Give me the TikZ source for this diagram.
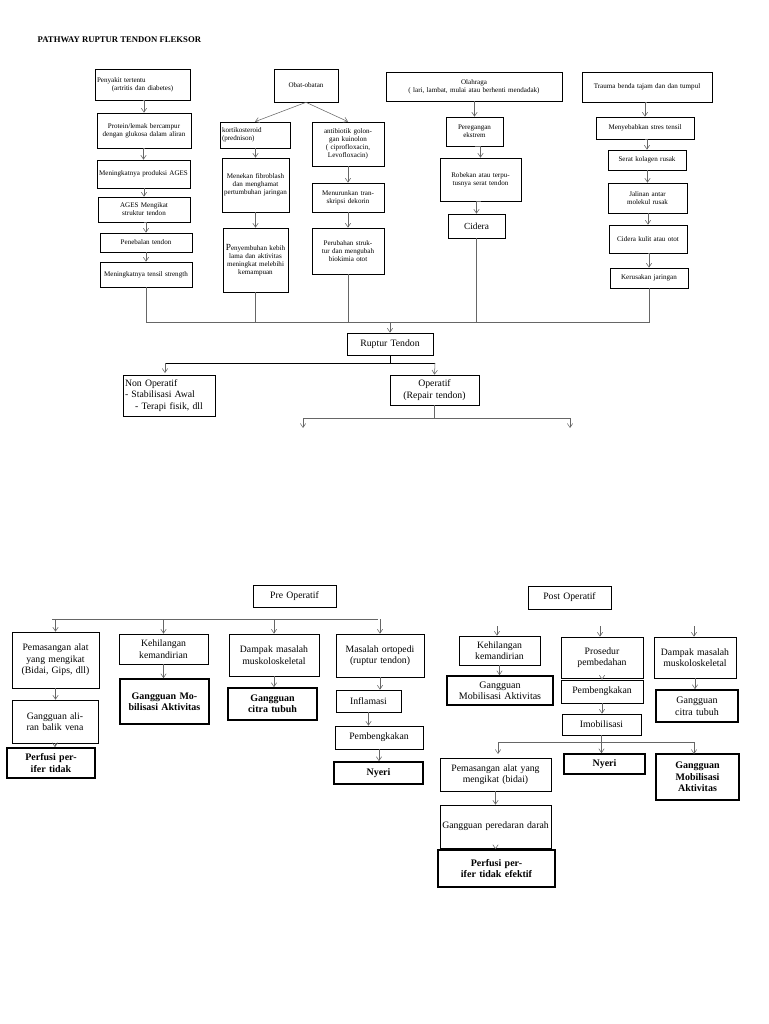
\documentclass[tikz,border=0pt]{standalone}
\usepackage{fontspec}
\setmainfont{Liberation Serif}
\usetikzlibrary{arrows.meta}
\newcommand{\bx}[7]{%
  \pgfmathsetmacro\bw{(#4-#2)*0.75}%
  \pgfmathsetmacro\bh{(#5-#3)*0.75}%
  \pgfmathsetmacro\tw{(#4-#2)*0.75-3}%
  \node[#6, minimum width=\bw pt, minimum height=\bh pt, text width=\tw pt] (#1) at ({(#2+#4)/2},{(#3+#5)/2}) {#7};}
\begin{document}
\begin{tikzpicture}[x=0.75pt,y=-0.75pt,
  base/.style={draw, inner sep=0.5pt, align=center, line width=0.5pt},
  tb/.style={base, font=\fontsize{5.3}{6}\selectfont},
  bb/.style={base, font=\fontsize{7.3}{8.6}\selectfont},
  thk/.style={bb, line width=1.3pt, font=\fontsize{7.5}{8.6}\selectfont\bfseries},
  arr/.style={draw=gray!80!black, line width=0.4pt, -{Straight Barb[length=3pt,width=4pt]}},
  ln/.style={draw=gray!80!black, line width=0.6pt}]
\useasboundingbox (0,0) rectangle (768,1024);
\fill[white] (0,0) rectangle (768,1024);
\node[anchor=west, font=\fontsize{6.5}{7}\selectfont\bfseries] (title) at (33,40) {PATHWAY RUPTUR TENDON FLEKSOR};
% column A
\bx{A1}{95}{69}{190}{100}{tb}{\raggedright Penyakit tertentu\\(artritis dan diabetes)}
\bx{A2}{97}{113}{191}{148}{tb}{Protein/lemak bercampur dengan glukosa dalam aliran}
\bx{A3}{97}{160}{190}{188}{tb}{Meningkatnya produksi AGES}
\bx{A4}{98}{197}{190}{222}{tb}{AGES Mengikat struktur tendon}
\bx{A5}{100}{233}{192}{252}{tb}{Penebalan tendon}
\bx{A6}{100}{262}{192}{287}{tb}{Meningkatnya tensil strength}
% column B/C
\bx{B1}{274}{69}{338}{102}{tb}{Obat-obatan\\[8pt]}
\bx{B2}{220}{122}{290}{148}{tb}{\raggedright kortikosteroid\\(prednison)\\[4pt]}
\bx{B3}{222}{158}{289}{212}{tb}{Menekan fibroblash dan menghamat pertumbuhan jaringan}
\bx{B4}{223}{228}{288}{292}{tb}{{\fontsize{7}{6}\selectfont P}enyembuhan kebih lama dan aktivitas meningkat melebihi kemampuan}
\bx{C2}{312}{122}{384}{166}{tb}{antibiotik golongan kuinolon\\( ciprofloxacin, Levofloxacin)}
\bx{C3}{312}{183}{384}{212}{tb}{Menurunkan transkripsi dekorin\\[3pt]}
\bx{C4}{312}{228}{384}{274}{tb}{Perubahan struktur dan mengubah biokimia otot}
% column D
\bx{D1}{386}{72}{562}{101}{tb}{Olahraga\\( lari, lambat, mulai atau berhenti mendadak)}
\bx{D2}{446}{117}{503}{146}{tb}{Peregangan ekstrem}
\bx{D3}{440}{158}{521}{201}{tb}{Robekan atau terputusnya serat tendon}
\bx{D4}{448}{214}{505}{238}{tb}{\fontsize{7}{8}\selectfont Cidera}
% column E
\bx{E1}{582}{72}{712}{102}{tb}{Trauma benda tajam dan dan tumpul}
\bx{E2}{596}{117}{694}{139}{tb}{Menyebabkan stres tensil}
\bx{E3}{608}{150}{686}{170}{tb}{Serat kolagen rusak}
\bx{E4}{608}{183}{687}{213}{tb}{Jalinan antar molekul rusak}
\bx{E5}{609}{225}{687}{253}{tb}{Cidera kulit atau otot}
\bx{E6}{610}{268}{688}{288}{tb}{Kerusakan jaringan}
% arrows top
\foreach \a/\b in {A1/A2,A2/A3,A3/A4,A4/A5,A5/A6,B2/B3,B3/B4,C2/C3,C3/C4,D1/D2,D2/D3,D3/D4,E1/E2,E2/E3,E3/E4,E4/E5,E5/E6}
  \draw[arr] (\a.south) -- (\a.south -| \b.north) -- (\b.north);
\draw[arr] (B1.south) -- (B2.north);
\draw[arr] (B1.south) -- (C2.north);
% bus
\coordinate (bus) at (0,322);
\draw[ln] (A6.south) -- (A6.south |- bus) -- (E6.south |- bus) -- (E6.south);
\foreach \n in {B4,C4,D4} \draw[ln] (\n.south) -- (\n.south |- bus);
% Ruptur
\bx{RT}{347}{333}{433}{355}{bb}{\raggedright Ruptur Tendon}
\draw[arr] (RT.north |- bus) -- (RT.north);
\bx{NO}{123}{375}{215}{416}{bb}{\raggedright Non Operatif\\- Stabilisasi Awal\\- Terapi fisik, dll}
\bx{OP}{390}{375}{479}{405}{bb}{Operatif\\(Repair tendon)}
\coordinate (rb) at (0,363);
\draw[line width=0.6pt] (RT.south) -- (RT.south |- rb);
\draw[line width=0.6pt] (165,363) -- (435,363);
\coordinate (nl) at (165,363);
\coordinate (ol) at (435,363);
\draw[arr] (nl) -- (165,373);
\draw[arr] (ol) -- (OP.north);
\coordinate (ob) at (0,418);
\coordinate (obl) at (303,418);
\coordinate (obr) at (570,418);
\draw[ln] (OP.south) -- (OP.south |- ob);
\draw[ln] (obl) -- (obr);
\draw[arr] (obl) -- (303,428);
\draw[arr] (obr) -- (570,428);
% Pre operatif
\bx{PRE}{253}{585}{336}{607}{bb}{Pre Operatif}
\coordinate (pb) at (0,619);
\draw[ln] (52,619) -- (378,619);
\bx{P1}{12}{632}{99}{688}{bb}{Pemasangan alat yang mengikat (Bidai, Gips, dll)\\[10pt]}
\bx{P2}{12}{700}{98}{743}{bb}{Gangguan aliran balik vena}
\bx{P3}{7}{748}{95}{778}{thk}{Perfusi perifer tidak}
\bx{K1}{119}{634}{208}{664}{bb}{Kehilangan kemandirian}
\bx{K2}{120}{679}{209}{724}{thk}{Gangguan Mobilisasi Aktivitas}
\bx{DM}{229}{634}{319}{676}{bb}{Dampak masalah muskoloskeletal}
\bx{DG}{228}{688}{317}{720}{thk}{Gangguan citra tubuh\\[6pt]}
\bx{M1}{336}{634}{424}{677}{bb}{Masalah ortopedi (ruptur tendon)}
\bx{M2}{336}{690}{401}{712}{bb}{Inflamasi}
\bx{M3}{335}{726}{423}{749}{bb}{Pembengkakan}
\bx{M4}{334}{762}{423}{784}{thk}{Nyeri}
\foreach \n in {P1,K1,DM,M1} \draw[arr] (\n.north |- pb) -- (\n.north);
\foreach \a/\b in {P1/P2,P2/P3,K1/K2,DM/DG,M1/M2,M2/M3,M3/M4}
  \draw[arr] (\a.south) -- (\a.south |- \b.north);
% Post operatif
\bx{POST}{528}{586}{611}{609}{bb}{Post Operatif}
\bx{Q1}{459}{636}{540}{665}{bb}{Kehilangan kemandirian}
\bx{Q2}{447}{676}{553}{705}{thk}{\mdseries Gangguan\\Mobilisasi Aktivitas}
\bx{R1}{561}{637}{643}{678}{bb}{Prosedur pembedahan}
\bx{R2}{561}{680}{643}{703}{bb}{Pembengkakan}
\bx{R3}{562}{714}{641}{735}{bb}{Imobilisasi}
\bx{S1}{654}{637}{736}{678}{bb}{Dampak masalah muskoloskeletal}
\bx{S2}{656}{690}{738}{722}{thk}{\mdseries Gangguan citra tubuh}
\foreach \n/\x in {Q1/497,R1/600,S1/694} {
  \coordinate (t\n) at (\x,626);
  \draw[arr] (t\n) -- (\n.north -| t\n);
}
\foreach \a/\b in {Q1/Q2,R1/R2,R2/R3,S1/S2}
  \draw[arr] (\a.south) -- (\a.south |- \b.north);
\bx{T1}{440}{758}{551}{791}{bb}{Pemasangan alat yang mengikat (bidai)}
\bx{T2}{440}{805}{551}{848}{bb}{Gangguan peredaran darah}
\bx{T3}{438}{850}{555}{887}{thk}{Perfusi perifer tidak efektif}
\bx{NN}{564}{754}{645}{774}{thk}{Nyeri}
\bx{GG}{656}{754}{739}{800}{thk}{Gangguan Mobilisasi Aktivitas}
\coordinate (ib) at (0,742);
\draw[ln] (498,742) -- (694,742);
\draw[ln] (R3.south) -- (R3.south |- ib);
\draw[arr] (498,742) -- (498,754);
\draw[arr] (R3.south |- ib) -- (R3.south |- NN.north);
\draw[arr] (694,742) -- (694,754);
\foreach \a/\b in {T1/T2,T2/T3}
  \draw[arr] (\a.south) -- (\a.south |- \b.north);
\end{tikzpicture}
\end{document}
